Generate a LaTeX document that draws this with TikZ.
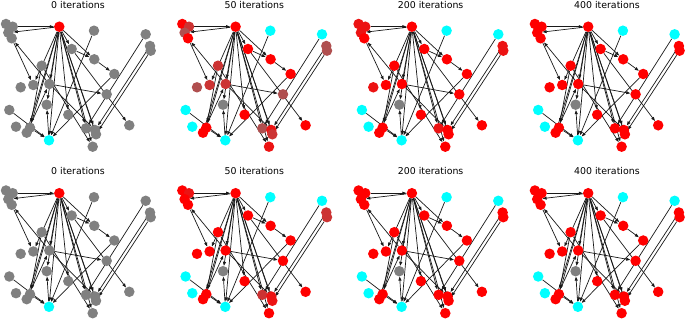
\documentclass[tikz,border=0pt]{standalone}
\usepackage{fontspec}
\setmainfont{DejaVu Sans}
\usepackage{xcolor}
\usepackage{tikz}
\usetikzlibrary{arrows.meta, backgrounds}

\definecolor{nodered}{HTML}{FF0000}
\definecolor{nodecyan}{HTML}{00FFFF}
\definecolor{nodegray}{HTML}{808080}
\colorlet{mixA}{red!85!nodegray}
\colorlet{mixB}{red!60!nodegray}
\colorlet{mixC}{red!38!nodegray}

\tikzset{
  vertex/.style  = {circle, inner sep=0pt, minimum size=10.5pt, draw=none,
                    fill=nodegray},
  base/.style    = {},
  cn0/.style     = {fill=nodered},
  csk/.style     = {fill=nodecyan},
  cg13/.style    = {fill=nodegray},
  seeded/.style  = {cg1/.style={fill=nodecyan}, cg2/.style={fill=nodecyan},
                    cg14/.style={fill=nodecyan}, cg16/.style={fill=nodecyan}},
  spread/.style  = {base/.style={fill=nodered}, seeded},
  link/.style    = {-{Triangle[length=4pt,width=3pt]}, line width=0.7pt,
                    black!90},
  paneltitle/.style = {font=\fontsize{9.4}{10}\selectfont, inner sep=0pt},
}

% vertex positions inside one panel
\def\vertexlist{n0/59.3/26.7, a1/6/24, a2/12.7/26.7, a3/8.3/32.7, a4/11.7/38.3,
  g1/94/30.7, g2/145.7/34.3, g3/150/46, g4/150.7/50.7, g5/71.7/49,
  g6/94.3/59.3, g7/114.3/74, g8/41.7/65.7, g9/33.3/85, g10/20.7/87.3,
  g11/49.3/84, g12/106.7/94.3, g13/46.7/104.7, g14/9.3/110, g15/68.3/114.7,
  g16/16/126.7, g17/30/127.7, g18/26.7/132.7, sk/49/140.3, g19/86/128.3,
  g20/95/130, g21/96/134.3, g22/92.7/146.7, g23/129.3/125.3}
% directed edges
\def\edgelist{a2/n0, n0/a3, a4/g9, g11/a4, n0/g5, n0/g6, g5/g6, g6/g7,
  n0/g17, n0/g18, n0/sk, n0/g11, n0/g9, n0/g13, n0/g15, n0/g19, n0/g20,
  n0/g21, n0/g22, g5/g23, g1/sk, g2/g19, g3/g20, g4/g21, g7/sk, g11/g12,
  sk/g13, g14/sk, g17/sk, g8/g17, g11/g20, g8/g22, g18/g11}

\newcommand\iterpanel[5]{%
  \begin{scope}[shift={(#2,#3)}, #5]
    \node[paneltitle] (#1title) at (78,4.5) {#4};
    \foreach \v/\px/\py in \vertexlist
      \node[vertex, base, c\v/.try] (#1\v) at (\px,\py) {};
    \begin{scope}[on background layer]
      \foreach \s/\t in \edgelist
        \draw[link] (#1\s) -- (#1\t);
    \end{scope}
  \end{scope}}

\begin{document}
\begin{tikzpicture}[x=1pt, y=-1pt]
  \useasboundingbox (0,0) rectangle (685,320);

  % ---- top row ----
  \iterpanel{pa}{0}{0}{0 iterations}{}
  \iterpanel{pb}{176.3}{0}{50 iterations}{spread,
    ca2/.style={fill=mixB}, ca3/.style={fill=mixC},
    cg3/.style={fill=mixC}, cg4/.style={fill=mixC},
    cg8/.style={fill=mixB}, cg9/.style={fill=mixB}, cg10/.style={fill=mixC},
    cg11/.style={fill=mixB}, cg12/.style={fill=mixC},
    cg19/.style={fill=mixC}, cg20/.style={fill=mixA},
    cg21/.style={fill=mixB}, cg22/.style={fill=mixA}}
  \iterpanel{pc}{352.6}{0}{200 iterations}{spread,
    ca1/.style={fill=mixA}, ca2/.style={fill=mixA}, ca3/.style={fill=mixA},
    cg3/.style={fill=mixA}, cg4/.style={fill=mixA}, cg10/.style={fill=mixA},
    cg19/.style={fill=mixA}}
  \iterpanel{pd}{528.9}{0}{400 iterations}{spread}

  % ---- bottom row ----
  \iterpanel{qa}{0}{166.5}{0 iterations}{}
  \iterpanel{qb}{176.3}{166.5}{50 iterations}{spread,
    ca2/.style={fill=mixA}, cg3/.style={fill=mixB}, cg4/.style={fill=mixB},
    cg19/.style={fill=mixB}, cg20/.style={fill=mixA}, cg21/.style={fill=mixA}}
  \iterpanel{qc}{352.6}{166.5}{200 iterations}{spread}
  \iterpanel{qd}{528.9}{166.5}{400 iterations}{spread}

\end{tikzpicture}
\end{document}
